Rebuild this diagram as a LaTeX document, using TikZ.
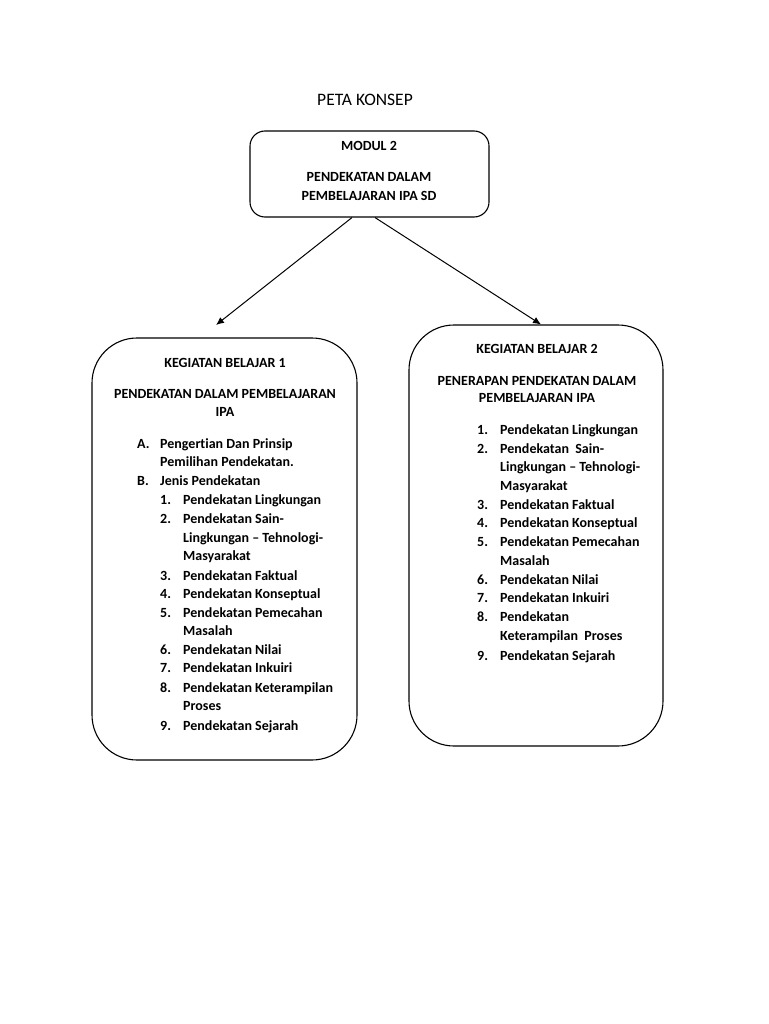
\documentclass[tikz,border=0pt]{standalone}
\usepackage{fontspec}
\setmainfont[Ligatures={NoCommon}]{Carlito}
\usetikzlibrary{arrows.meta}

\tikzstyle{konsep box}=[draw, rounded corners=#1, line width=1.1pt, inner sep=0pt]
\tikzstyle{judul}=[font=\fontsize{14}{18}\selectfont\bfseries, anchor=base]
\tikzstyle{butir}=[font=\fontsize{14}{18}\selectfont\bfseries, anchor=base west, inner sep=0pt]

\begin{document}
\begin{tikzpicture}[x=1pt, y=-1pt]
		\useasboundingbox (0,0) rectangle (768,1024);
		\node[font=\fontsize{17.5}{20}\selectfont, anchor=base] (peta) at (365,106) {PETA KONSEP};

		\node [konsep box=15pt, minimum width=239pt, minimum height=86pt] (modul) at (369.5,174) {};
		\node [konsep box=45pt, minimum width=265pt, minimum height=422pt] (kb1) at (224.5,549) {};
		\node [konsep box=45pt, minimum width=254pt, minimum height=421pt] (kb2) at (536,535.5) {};

		\node[judul] (modul-a) at (369,151) {MODUL 2};
		\node[judul] (modul-b) at (369,182) {PENDEKATAN DALAM};
		\node[judul] (modul-c) at (369,201) {PEMBELAJARAN IPA SD};

		\coordinate (kb1tip) at (216,325);
		\draw[line width=1pt, -{Latex[length=8pt,width=7pt]}] ([xshift=-17.5pt]modul.south) -- (kb1tip);
		\draw[line width=1pt, -{Latex[length=8pt,width=7pt]}] ([xshift=5.5pt]modul.south) -- ([xshift=5pt]kb2.north);

		% kegiatan belajar 1
		\node[judul] (kb1-a) at (225,367) {KEGIATAN BELAJAR 1};
		\node[judul] (kb1-b) at (225,398) {PENDEKATAN DALAM PEMBELAJARAN};
		\node[judul] (kb1-c) at (225,416) {IPA};
		\node[butir] (a) at (137,448) {A.};
		\node[butir] (a1) at (160,448) {Pengertian Dan Prinsip};
		\node[butir] (a2) at (160,466) {Pemilihan Pendekatan.};
		\node[butir] (b) at (137,485) {B.};
		\node[butir] (b1) at (160,485) {Jenis Pendekatan};
		\node[butir] (n1) at (160,504) {1.};
		\node[butir] (t1) at (183,504) {Pendekatan Lingkungan};
		\node[butir] (n2) at (160,523) {2.};
		\node[butir] (t2) at (183,523) {Pendekatan Sain-};
		\node[butir] (t2b) at (183,542) {Lingkungan -- Tehnologi-};
		\node[butir] (t2c) at (183,560) {Masyarakat};
		\node[butir] (n3) at (160,580) {3.};
		\node[butir] (t3) at (183,580) {Pendekatan Faktual};
		\node[butir] (n4) at (160,598) {4.};
		\node[butir] (t4) at (183,598) {Pendekatan Konseptual};
		\node[butir] (n5) at (160,617) {5.};
		\node[butir] (t5) at (183,617) {Pendekatan Pemecahan};
		\node[butir] (t5b) at (183,635) {Masalah};
		\node[butir] (n6) at (160,654) {6.};
		\node[butir] (t6) at (183,654) {Pendekatan Nilai};
		\node[butir] (n7) at (160,672) {7.};
		\node[butir] (t7) at (183,672) {Pendekatan Inkuiri};
		\node[butir] (n8) at (160,692) {8.};
		\node[butir] (t8) at (183,692) {Pendekatan Keterampilan};
		\node[butir] (t8b) at (183,710) {Proses};
		\node[butir] (n9) at (160,730) {9.};
		\node[butir] (t9) at (183,730) {Pendekatan Sejarah};

		% kegiatan belajar 2
		\node[judul] (kb2-a) at (537,353) {KEGIATAN BELAJAR 2};
		\node[judul] (kb2-b) at (537,385) {PENERAPAN PENDEKATAN DALAM};
		\node[judul] (kb2-c) at (537,402) {PEMBELAJARAN IPA};
		\node[butir] (m1) at (477,434) {1.};
		\node[butir] (s1) at (500,434) {Pendekatan Lingkungan};
		\node[butir] (m2) at (477,453) {2.};
		\node[butir] (s2) at (500,453) {Pendekatan\ \ Sain-};
		\node[butir] (s2b) at (500,471) {Lingkungan -- Tehnologi-};
		\node[butir] (s2c) at (500,490) {Masyarakat};
		\node[butir] (m3) at (477,509) {3.};
		\node[butir] (s3) at (500,509) {Pendekatan Faktual};
		\node[butir] (m4) at (477,527) {4.};
		\node[butir] (s4) at (500,527) {Pendekatan Konseptual};
		\node[butir] (m5) at (477,546) {5.};
		\node[butir] (s5) at (500,546) {Pendekatan Pemecahan};
		\node[butir] (s5b) at (500,565) {Masalah};
		\node[butir] (m6) at (477,584) {6.};
		\node[butir] (s6) at (500,584) {Pendekatan Nilai};
		\node[butir] (m7) at (477,602) {7.};
		\node[butir] (s7) at (500,602) {Pendekatan Inkuiri};
		\node[butir] (m8) at (477,621) {8.};
		\node[butir] (s8) at (500,621) {Pendekatan};
		\node[butir] (s8b) at (500,640) {Keterampilan\ \ Proses};
		\node[butir] (m9) at (477,660) {9.};
		\node[butir] (s9) at (500,660) {Pendekatan Sejarah};
	\end{tikzpicture}
\end{document}
